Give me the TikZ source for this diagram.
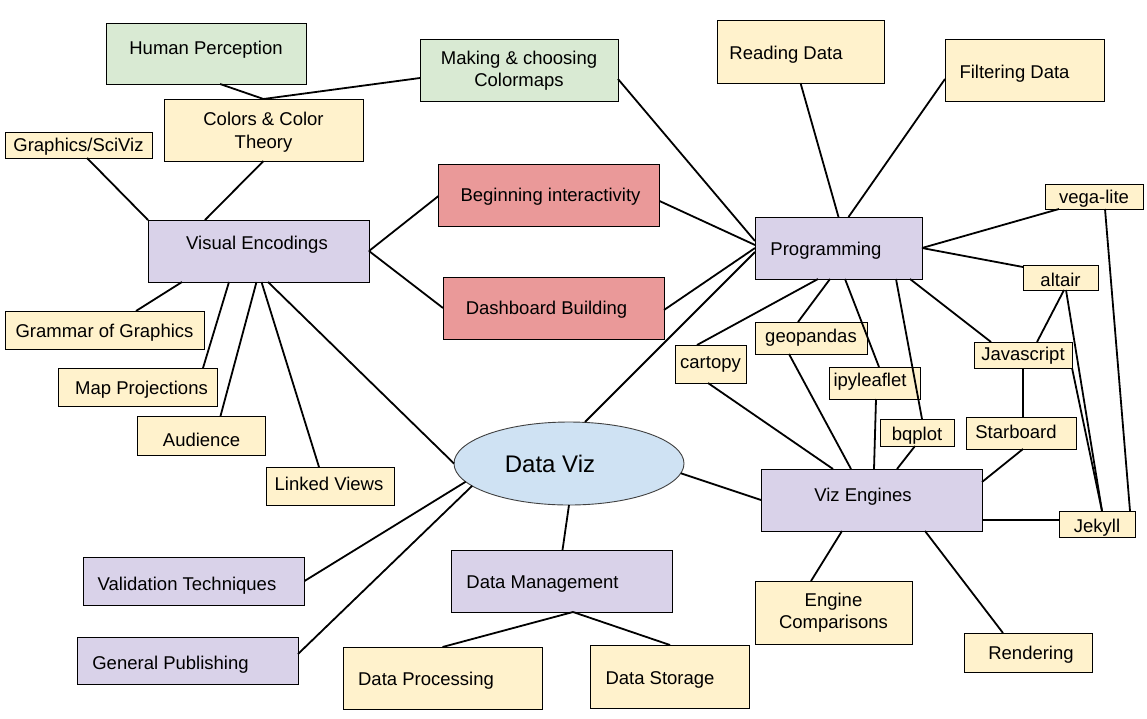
\documentclass[tikz,border=0pt]{standalone}
\usepackage{fontspec}
\setmainfont{Liberation Sans}
\usepackage{tikz}
\usetikzlibrary{shapes}
\definecolor{cgreen}{HTML}{D9EAD3}
\definecolor{cyellow}{HTML}{FFF2CC}
\definecolor{cpurple}{HTML}{D9D2E9}
\definecolor{cred}{HTML}{EA9999}
\definecolor{cblue}{HTML}{CFE2F3}
\begin{document}
\begin{tikzpicture}[x=1pt,y=-1pt]
			\tikzstyle{box}=[rectangle,draw=black,line width=0.9pt,inner sep=0pt,outer sep=0pt]
			\tikzstyle{gbox}=[box,fill=cgreen]
			\tikzstyle{ybox}=[box,fill=cyellow]
			\tikzstyle{pbox}=[box,fill=cpurple]
			\tikzstyle{rbox}=[box,fill=cred]
			\tikzstyle{every label}=[inner sep=0pt,align=center,yshift=-2pt,font=\fontsize{18.5}{22.5}\selectfont]
			\tikzstyle{link}=[draw=black,line width=1.8pt]
			\useasboundingbox (0,0) rectangle (1147,718);
			
			\node[gbox,minimum width=200,minimum height=61,label={[yshift=5.5]center:Human Perception}] (hp) at (206,53.5) {};
			\node[gbox,minimum width=198,minimum height=62,label={[yshift=1.5]center:{Making \& choosing\\Colormaps}}] (mcc) at (519,70) {};
			\node[ybox,minimum width=199,minimum height=62,label={center:{Colors \& Color\\Theory}}] (cct) at (263.5,130) {};
			\node[ybox,minimum width=147,minimum height=26,label={center:Graphics/SciViz}] (gsv) at (78.5,145) {};
			\node[pbox,minimum width=221,minimum height=62,label={[xshift=-1.5,yshift=8]center:Visual Encodings}] (ve) at (258.5,251) {};
			\node[rbox,minimum width=221,minimum height=62,label={[xshift=1.5]center:Beginning interactivity}] (bi) at (549,195) {};
			\node[rbox,minimum width=221,minimum height=62,label={[xshift=-7]center:Dashboard Building}] (db) at (553.5,308) {};
			\node[ybox,minimum width=167,minimum height=63,label={[xshift=-14.5,yshift=-1.5]center:Reading Data}] (rd) at (800.5,51.5) {};
			\node[ybox,minimum width=159,minimum height=62,label={[xshift=-10,yshift=-2]center:Filtering Data}] (fd) at (1024.5,70) {};
			\node[pbox,minimum width=167,minimum height=62,label={[xshift=-12.5,yshift=-1]center:Programming}] (prog) at (838.5,248) {};
			\node[ybox,minimum width=98,minimum height=25,label={center:vega-lite}] (vl) at (1094,196.5) {};
			\node[ybox,minimum width=75,minimum height=25,label={center:altair}] (alt) at (1060.5,277.5) {};
			\node[ybox,minimum width=112,minimum height=32,label={[yshift=2]center:geopandas}] (geo) at (811,338) {};
			\node[ybox,minimum width=71,minimum height=38,label={[yshift=2]center:cartopy}] (carto) at (710.5,364) {};
			\node[ybox,minimum width=91,minimum height=32,label={[xshift=-4.5,yshift=3]center:ipyleaflet}] (ipy) at (874.5,383) {};
			\node[ybox,minimum width=98,minimum height=26,label={[yshift=1]center:Javascript}] (js) at (1023,355) {};
			\node[ybox,minimum width=74,minimum height=27,label={[yshift=-1.5]center:bqplot}] (bq) at (917,432.5) {};
			\node[ybox,minimum width=110,minimum height=32,label={[xshift=-5,yshift=3]center:Starboard}] (sb) at (1021,433) {};
			\node[pbox,minimum width=221,minimum height=62,label={[xshift=-8.5,yshift=5]center:Viz Engines}] (vz) at (871.5,500) {};
			\node[ybox,minimum width=76,minimum height=26,label={[yshift=-2]center:Jekyll}] (jk) at (1097,524) {};
			\node[ybox,minimum width=157,minimum height=63,label={[yshift=2]center:{Engine\\Comparisons}}] (ec) at (833.5,612.5) {};
			\node[ybox,minimum width=128,minimum height=39,label={[xshift=3]center:Rendering}] (ren) at (1028,652.5) {};
			\node[ybox,minimum width=199,minimum height=38,label={[yshift=-1]center:Grammar of Graphics}] (gog) at (104.5,330) {};
			\node[ybox,minimum width=159,minimum height=38,label={[xshift=4,yshift=-1]center:Map Projections}] (mp) at (137.5,387) {};
			\node[ybox,minimum width=128,minimum height=39,label={[yshift=-2.5]center:Audience}] (aud) at (201.5,435.5) {};
			\node[ybox,minimum width=128,minimum height=38,label={[xshift=-1.5,yshift=4]center:Linked Views}] (lv) at (330.5,486) {};
			\node[ellipse,draw=black!75,line width=0.9pt,fill=cblue,inner sep=0pt,outer sep=0pt,minimum width=230,minimum height=83,label={[xshift=-19,yshift=1.5,font=\fontsize{24}{28}\selectfont]center:Data Viz}] (dv) at (569,463.5) {};
			\node[pbox,minimum width=221,minimum height=48,label={[xshift=-7,yshift=-3]center:Validation Techniques}] (vt) at (194,581) {};
			\node[pbox,minimum width=221,minimum height=47,label={[xshift=-17,yshift=-2.5]center:General Publishing}] (gp) at (187.5,660.5) {};
			\node[pbox,minimum width=221,minimum height=62,label={[xshift=-19,yshift=-1]center:Data Management}] (dm) at (561.5,581) {};
			\node[ybox,minimum width=199,minimum height=62,label={[xshift=-16.5,yshift=-1]center:Data Processing}] (dp) at (442.5,678) {};
			\node[ybox,minimum width=159,minimum height=63,label={[xshift=-9.5,yshift=-1.5]center:Data Storage}] (ds) at (669.5,676.5) {};
			
			\draw[link] ([xshift=14]hp.south) -- (cct.north) -- ([yshift=-8]mcc.west);
			\draw[link] (cct.south) -- ([xshift=-53.5]ve.north);
			\draw[link] ([xshift=8.5]gsv.south) -- (ve.north west);
			\draw[link] (ve.east) -- ([yshift=-1]bi.west);
			\draw[link] (ve.east) -- (db.west);
			\draw[link] ([xshift=-76.5]ve.south) -- ([xshift=31.5]gog.north);
			\draw[link] ([xshift=-29.5]ve.south) -- ([xshift=65.5]mp.north);
			\draw[link] ([xshift=-2]ve.south) -- ([xshift=19]aud.north);
			\draw[link] ([xshift=3]ve.south) -- ([xshift=-11.5]lv.north);
			\draw[link] ([xshift=9.5]ve.south) -- (dv.west);
			\draw[link] ([yshift=-9]mcc.east) -- ([yshift=7]prog.west);
			\draw[link] ([yshift=-6]bi.east) -- ([yshift=3]prog.west);
			\draw[link] ([yshift=-2]db.east) -- (prog.west);
			\draw[link] ([xshift=16]dv.north) -- ([yshift=-4]prog.west);
			\draw[link] (rd.south) -- (prog.north);
			\draw[link] ([yshift=-9]fd.west) -- ([xshift=10]prog.north);
			\draw[link] (prog.east) -- ([xshift=-35]vl.south);
			\draw[link] (prog.east) -- ([yshift=-2]alt.north west);
			\draw[link] ([xshift=-20.5]prog.south) -- ([xshift=-13.5]carto.north);
			\draw[link] ([xshift=-8.5]prog.south) -- ([xshift=-13]geo.north);
			\draw[link] ([xshift=6.5]prog.south) -- ([xshift=4.5]ipy.north);
			\draw[link] ([xshift=57.5]prog.south) -- ([xshift=5]bq.north);
			\draw[link] ([xshift=71.5]prog.south) -- ([xshift=-32]js.north);
			\draw[link] ([xshift=3.5]alt.south) -- ([xshift=14]js.north);
			\draw[link] ([xshift=5.5]alt.south) -- ([xshift=5]jk.north);
			\draw[link] (js.south east) -- ([xshift=5]jk.north);
			\draw[link] ([xshift=11]vl.south) -- ([xshift=33]jk.north);
			\draw[link] (js.south) -- (js.south |- sb.north);
			\draw[link] ([xshift=2]sb.south) -- ([yshift=18]vz.east);
			\draw[link] ([yshift=-20]vz.east) -- ([yshift=-20]vz.east -| jk.west);
			\draw[link] ([xshift=-2.5]carto.south) -- ([xshift=-38.5]vz.north);
			\draw[link] ([xshift=-22]geo.south) -- ([xshift=-20.5]vz.north);
			\draw[link] ([xshift=1.5]ipy.south) -- ([xshift=2.5]vz.north);
			\draw[link] ([xshift=-2]bq.south) -- ([xshift=25.5]vz.north);
			\draw[link] (dv.-5) -- (vz.west);
			\draw[link] ([xshift=-29.5]vz.south) -- ([xshift=-22.5]ec.north);
			\draw[link] ([xshift=53.5]vz.south) -- ([xshift=-25]ren.north);
			\draw[link] (dv.south) -- ([xshift=1]dm.north);
			\draw[link] ([xshift=11.5]dm.south) -- (dp.north);
			\draw[link] ([xshift=11.5]dm.south) -- ([xshift=0.5]ds.north);
			\draw[link] (dv.190) -- (vt.east);
			\draw[link] (dv.193) -- ([yshift=6.5]gp.east);
			
\end{tikzpicture}
\end{document}
